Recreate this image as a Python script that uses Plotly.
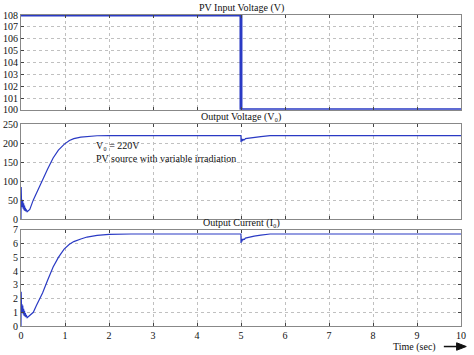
import plotly.graph_objects as go

# ---- data ----
t_pv = [0, 4.999, 5.0, 10]
v_pv = [108, 108, 100, 100]

t_vo = [0, 0.004, 0.012, 0.02, 0.03, 0.04, 0.05, 0.06, 0.07, 0.08, 0.09, 0.10, 0.11, 0.12,
        0.14, 0.17, 0.20, 0.28, 0.35, 0.49, 0.60, 0.73, 0.85, 0.98, 1.1, 1.2, 1.36, 1.5,
        1.73, 2.0, 2.5, 4.999, 5.0, 5.01, 5.02, 5.03, 5.04, 5.06, 5.08, 5.1, 5.15, 5.2,
        5.3, 5.45, 5.66, 6.0, 10]
v_vo = [0, 85, 45, 52, 32, 48, 28, 42, 24, 36, 22, 30, 21, 26,
        20, 22, 26, 51, 70, 103, 131, 161, 182, 197, 207, 212, 216, 218,
        219.5, 220, 220, 220, 203, 212, 205, 211, 207, 210, 209, 212, 213, 214,
        215.5, 217.5, 220, 220, 220]

t_io = [0, 0.004, 0.012, 0.02, 0.03, 0.04, 0.05, 0.06, 0.07, 0.08, 0.09, 0.10, 0.11, 0.12,
        0.14, 0.17, 0.20, 0.28, 0.35, 0.49, 0.60, 0.73, 0.85, 0.98, 1.1, 1.2, 1.36, 1.5,
        1.73, 2.0, 2.5, 4.999, 5.0, 5.01, 5.02, 5.03, 5.04, 5.06, 5.08, 5.1, 5.15, 5.2,
        5.3, 5.45, 5.66, 6.0, 10]
i_io = [0, 2.5, 1.3, 1.6, 1.0, 1.5, 0.85, 1.25, 0.75, 1.1, 0.7, 0.95, 0.65, 0.8,
        0.6, 0.7, 0.8, 1.0, 1.5, 2.4, 3.3, 4.3, 5.0, 5.6, 5.95, 6.15, 6.34, 6.48,
        6.6, 6.68, 6.7, 6.7, 6.05, 6.35, 6.15, 6.35, 6.25, 6.33, 6.32, 6.4, 6.45, 6.5,
        6.55, 6.62, 6.7, 6.7, 6.7]

x_ticks = [0, 1, 2, 3, 4, 5, 6, 7, 8, 9, 10]
pv_ticks = [100, 101, 102, 103, 104, 105, 106, 107, 108]
vo_ticks = [0, 50, 100, 150, 200, 250]
io_ticks = [0, 1, 2, 3, 4, 5, 6, 7]

titles = ["PV Input Voltage (V)", "Output Voltage (V\u2080)", "Output Current (I\u2080)"]

LINE = "#2a3ac4"
FONT = "Liberation Serif"
FS = 10

fig = go.Figure()
fig.add_trace(go.Scatter(x=t_pv, y=v_pv, mode="lines", line=dict(color=LINE, width=3),
                         xaxis="x", yaxis="y", showlegend=False))
fig.add_trace(go.Scatter(x=t_vo, y=v_vo, mode="lines", line=dict(color=LINE, width=1.2),
                         xaxis="x2", yaxis="y2", showlegend=False))
fig.add_trace(go.Scatter(x=t_io, y=i_io, mode="lines", line=dict(color=LINE, width=1.2),
                         xaxis="x3", yaxis="y3", showlegend=False))

common_x = dict(range=[0, 10], tickvals=x_ticks, showline=True, linecolor="#888888",
                mirror="ticks", ticks="inside", ticklen=3, tickcolor="#444444",
                showgrid=True, gridcolor="#c0c0c0", griddash="dot", gridwidth=1,
                zeroline=False, automargin=False,
                tickfont=dict(family=FONT, size=FS, color="#111111"))
common_y = dict(showline=True, linecolor="#888888", mirror="ticks", ticks="inside",
                ticklen=3, tickcolor="#444444", showgrid=True, gridcolor="#c0c0c0",
                griddash="dot", gridwidth=1, zeroline=False, automargin=False,
                tickfont=dict(family=FONT, size=FS, color="#111111"))

doms = [[0.695, 1.0], [0.343, 0.649], [0.0, 0.309]]

fig.update_layout(
    width=474, height=355,
    margin=dict(l=21, r=13, t=15, b=29, autoexpand=False),
    paper_bgcolor="white", plot_bgcolor="white",
    font=dict(family=FONT, size=FS, color="#111111"),
    xaxis=dict(common_x, anchor="y", showticklabels=False),
    xaxis2=dict(common_x, anchor="y2", matches="x", showticklabels=False),
    xaxis3=dict(common_x, anchor="y3", matches="x", showticklabels=True),
    yaxis=dict(common_y, domain=doms[0], range=[100, 108], tickvals=pv_ticks, anchor="x"),
    yaxis2=dict(common_y, domain=doms[1], range=[0, 250], tickvals=vo_ticks, anchor="x2"),
    yaxis3=dict(common_y, domain=doms[2], range=[0, 7], tickvals=io_ticks, anchor="x3"),
)

for k, (title, d) in enumerate(zip(titles, doms)):
    fig.add_annotation(text=title, x=0.5, xref="paper", y=d[1], yref="paper",
                       yanchor="bottom", showarrow=False, yshift=-1,
                       font=dict(family=FONT, size=FS, color="#111111"))

fig.add_annotation(text="V\u2080 = 220V<br>PV source with variable irradiation",
                   x=1.66, y=214, xref="x2", yref="y2", xanchor="left", yanchor="top",
                   align="left", showarrow=False,
                   font=dict(family=FONT, size=FS, color="#111111"))

fig.add_annotation(text="Time (sec)", x=0.948, xref="paper", y=-0.069, yref="paper",
                   xanchor="right", yanchor="middle", showarrow=False,
                   font=dict(family=FONT, size=FS, color="#111111"))
fig.add_shape(type="line", xref="paper", yref="paper", x0=0.961, x1=0.995, y0=-0.066, y1=-0.066,
              line=dict(color="#111111", width=1.5))
fig.add_shape(type="path", xref="paper", yref="paper",
              path="M 0.99 -0.054 L 1.012 -0.066 L 0.99 -0.078 Z",
              fillcolor="#111111", line=dict(color="#111111", width=1))

fig.write_html("out.html", config={"displayModeBar": False},
               post_script="document.body.style.margin='0';")
